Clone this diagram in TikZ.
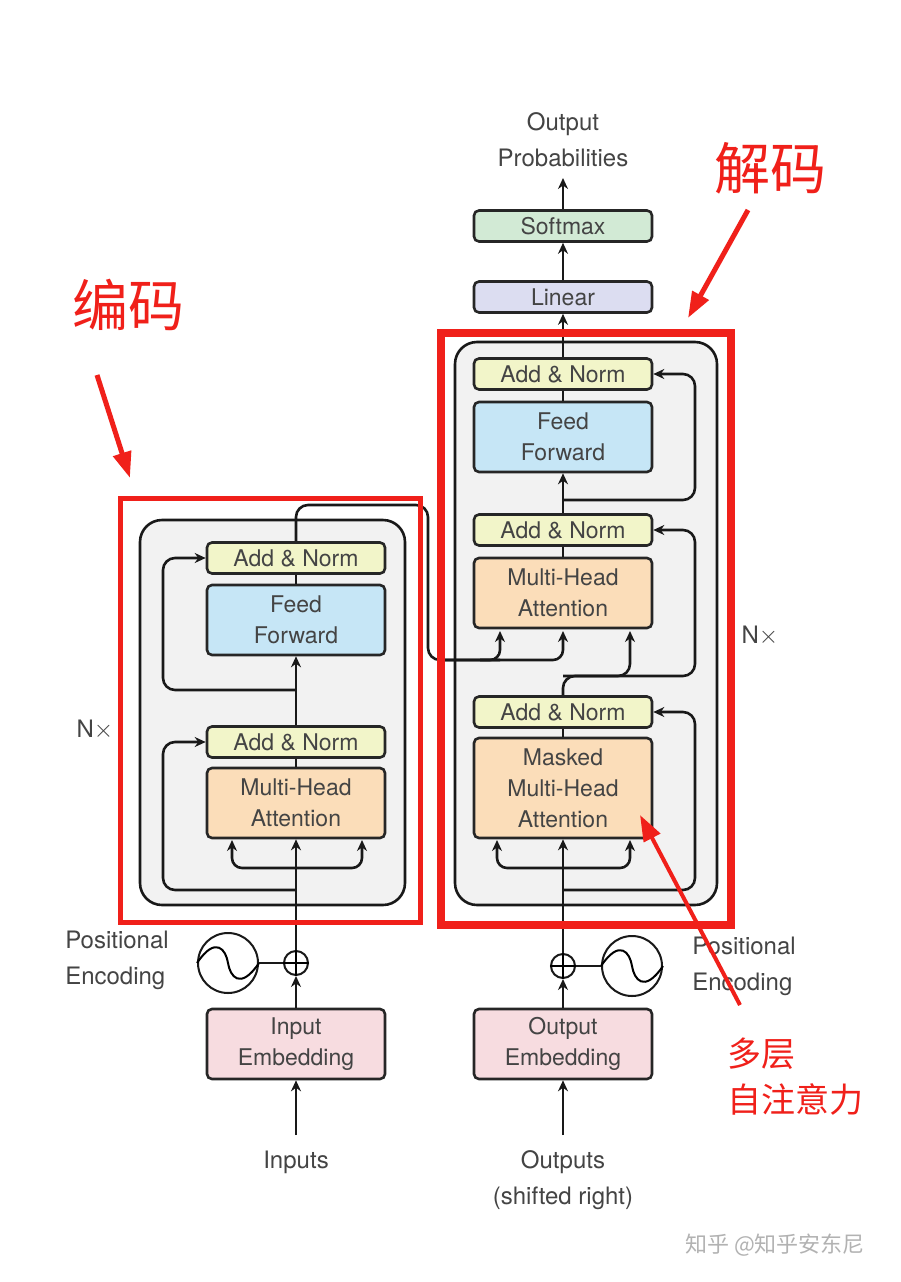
\documentclass[tikz,border=0pt]{standalone}
\usepackage{fontspec}
\setmainfont{TeX Gyre Heros}
\newfontfamily\cjk{Noto Sans CJK SC}
\usetikzlibrary{arrows.meta}
\definecolor{an}{HTML}{F2F5C9}
\definecolor{ff}{HTML}{C6E6F6}
\definecolor{mh}{HTML}{FBDDB9}
\definecolor{em}{HTML}{F7DCE0}
\definecolor{li}{HTML}{DCDDF1}
\definecolor{sm}{HTML}{D2EAD5}
\definecolor{gb}{HTML}{F2F2F2}
\definecolor{rd}{HTML}{F0201A}
\definecolor{tx}{HTML}{444444}
\begin{document}
\begin{tikzpicture}[x=1pt,y=-1pt,
 blk/.style={draw=black!85,line width=2.6pt,rounded corners=5pt,minimum width=178pt,align=center,text=tx,font=\fontsize{23}{31}\selectfont,inner sep=0pt},
 an/.style={blk,fill=an,minimum height=31pt},
 big/.style={blk,minimum height=70pt},
 ln/.style={line width=2.6pt,black!90},
 ar/.style={ln,-{Stealth[length=11pt,width=10pt]}},
 lab/.style={text=tx,font=\fontsize{24}{36}\selectfont,align=left},
 red/.style={draw=rd,line width=5pt},
 rar/.style={rd,line width=5pt,-{Triangle[length=26pt,width=18pt]}}]
\useasboundingbox (0,0) rectangle (901,1282);
\fill[white] (0,0) rectangle (901,1282);
% gray boxes
\node[draw=black!90,line width=2.6pt,fill=gb,rounded corners=22pt,minimum width=265pt,minimum height=385pt,inner sep=0pt] (encbox) at (272.5,712.5) {};
\node[draw=black!90,line width=2.6pt,fill=gb,rounded corners=22pt,minimum width=262pt,minimum height=563pt,inner sep=0pt] (decbox) at (586,623.5) {};
% encoder blocks
\node[an] (ean2) at (296,558) {Add \& Norm};
\node[big,fill=ff] (eff) at (296,620) {Feed\\Forward};
\node[an] (ean1) at (296,742) {Add \& Norm};
\node[big,fill=mh] (emh) at (296,803) {Multi-Head\\Attention};
\node[big,fill=em] (iemb) at (296,1044) {Input\\Embedding};
\node[draw=black!90,line width=2pt,circle,minimum size=24pt,inner sep=0pt] (eplus) at (296,963) {};
\draw[line width=2pt] (eplus.north)--(eplus.south) (eplus.west)--(eplus.east);
\node[draw=black!90,line width=2pt,circle,minimum size=60pt,inner sep=0pt] (esin) at (228,963) {};
\draw[line width=2pt] (esin.west) .. controls (216,935) and (226,950) .. (228,963) .. controls (230,976) and (240,991) .. (esin.east);
\node[lab] (pe1) at (117,960) {Positional\\Encoding};
\node[lab] (inp) at (296,1162) {Inputs};
\coordinate (inb) at (296,1135);
% decoder blocks
\node[an] (dan3) at (563,374) {Add \& Norm};
\node[big,fill=ff] (dff) at (563,437) {Feed\\Forward};
\node[an] (dan2) at (563,530) {Add \& Norm};
\node[big,fill=mh] (dmh) at (563,593) {Multi-Head\\Attention};
\node[an] (dan1) at (563,712) {Add \& Norm};
\node[blk,fill=mh,minimum height=100pt] (dmm) at (563,788) {Masked\\Multi-Head\\Attention};
\node[an,fill=li] (lin) at (563,297) {Linear};
\node[an,fill=sm] (smx) at (563,226) {Softmax};
\node[lab,align=center] (oprob) at (563,140) {Output\\Probabilities};
\node[big,fill=em] (oemb) at (563,1044) {Output\\Embedding};
\node[draw=black!90,line width=2pt,circle,minimum size=24pt,inner sep=0pt] (dplus) at (563,966) {};
\draw[line width=2pt] (dplus.north)--(dplus.south) (dplus.west)--(dplus.east);
\node[draw=black!90,line width=2pt,circle,minimum size=60pt,inner sep=0pt] (dsin) at (632,966) {};
\draw[line width=2pt] (dsin.west) .. controls (620,938) and (630,953) .. (632,966) .. controls (634,979) and (644,994) .. (dsin.east);
\node[lab] (pe2) at (744,966) {Positional\\Encoding};
\node[lab,align=center] (outp) at (563,1180) {Outputs\\(shifted right)};
\coordinate (outb) at (563,1135);
\node[lab] (nx1) at (95,730) {N$\times$};
\node[lab] (nx2) at (760,636) {N$\times$};
% encoder connections
\draw[ar] (inb) -- (iemb.south);
\draw[ar] (iemb.north) -- (eplus.south);
\draw[ln] (esin.east) -- (eplus.west);
\draw[ar] (eplus.north) -- (emh.south);
\draw[ar,rounded corners=10pt] (296,868) -- (232,868) -- (232,840);
\draw[ar,rounded corners=10pt] (296,868) -- (362,868) -- (362,840);
\draw[ar,rounded corners=12pt] (296,890) -- (163,890) -- (163,742) -- (ean1.west);
\draw[ln] (emh.north) -- (ean1.south);
\draw[ar] (ean1.north) -- (eff.south);
\draw[ar,rounded corners=12pt] (296,690) -- (163,690) -- (163,558) -- (ean2.west);
\draw[ln] (eff.north) -- (ean2.south);
\draw[ln,rounded corners=12pt] (ean2.north) -- (296,505) -- (428,505) -- (428,660) -- (500,660);
\draw[ar,rounded corners=10pt] (440,660) -- (500,660) -- (500,631);
\draw[ar,rounded corners=10pt] (480,660) -- (563,660) -- (563,631);
% decoder connections
\draw[ar] (outb) -- (oemb.south);
\draw[ar] (oemb.north) -- (dplus.south);
\draw[ln] (dsin.west) -- (dplus.east);
\draw[ar] (dplus.north) -- (dmm.south);
\draw[ar,rounded corners=10pt] (563,868) -- (497,868) -- (497,840);
\draw[ar,rounded corners=10pt] (563,868) -- (630,868) -- (630,840);
\draw[ar,rounded corners=12pt] (563,890) -- (695,890) -- (695,712) -- (dan1.east);
\draw[ln] (dmm.north) -- (dan1.south);
\draw[ar,rounded corners=12pt] (dan1.north) -- (563,676) -- (630,676) -- (630,631);
\draw[ar,rounded corners=12pt] (563,676) -- (695,676) -- (695,530) -- (dan2.east);
\draw[ln] (dmh.north) -- (dan2.south);
\draw[ar] (dan2.north) -- (dff.south);
\draw[ar,rounded corners=12pt] (563,500) -- (695,500) -- (695,374) -- (dan3.east);
\draw[ln] (dff.north) -- (dan3.south);
\draw[ar] (dan3.north) -- (lin.south);
\draw[ar] (lin.north) -- (smx.south);
\draw[ar] (smx.north) -- (563,178);
% red annotations
\draw[red] (120,498) rectangle (420,922);
\draw[draw=rd,line width=8pt] (441,333) rectangle (731,925);
\node[text=rd,font=\cjk\fontsize{56}{60}\selectfont] (t1) at (128,305) {编码};
\node[text=rd,font=\cjk\fontsize{56}{60}\selectfont] (t2) at (770,168) {解码};
\node[text=rd,font=\cjk\fontsize{34}{46}\selectfont,align=left] (t3) at (795,1077) {多层\\自注意力};
\coordinate (a1s) at (97,375); \coordinate (a1e) at (130,478);
\coordinate (a2s) at (748,210); \coordinate (a2e) at (688,318);
\coordinate (a3s) at (740,1005); \coordinate (a3e) at (640,815);
\draw[rar] (a1s) -- (a1e);
\draw[rar] (a2s) -- (a2e);
\draw[rar,line width=4pt] (a3s) -- (a3e);
\node[text=black!30,font=\cjk\fontsize{22}{24}\selectfont] (wm) at (775,1245) {知乎 @知乎安东尼};
\end{tikzpicture}
\end{document}
